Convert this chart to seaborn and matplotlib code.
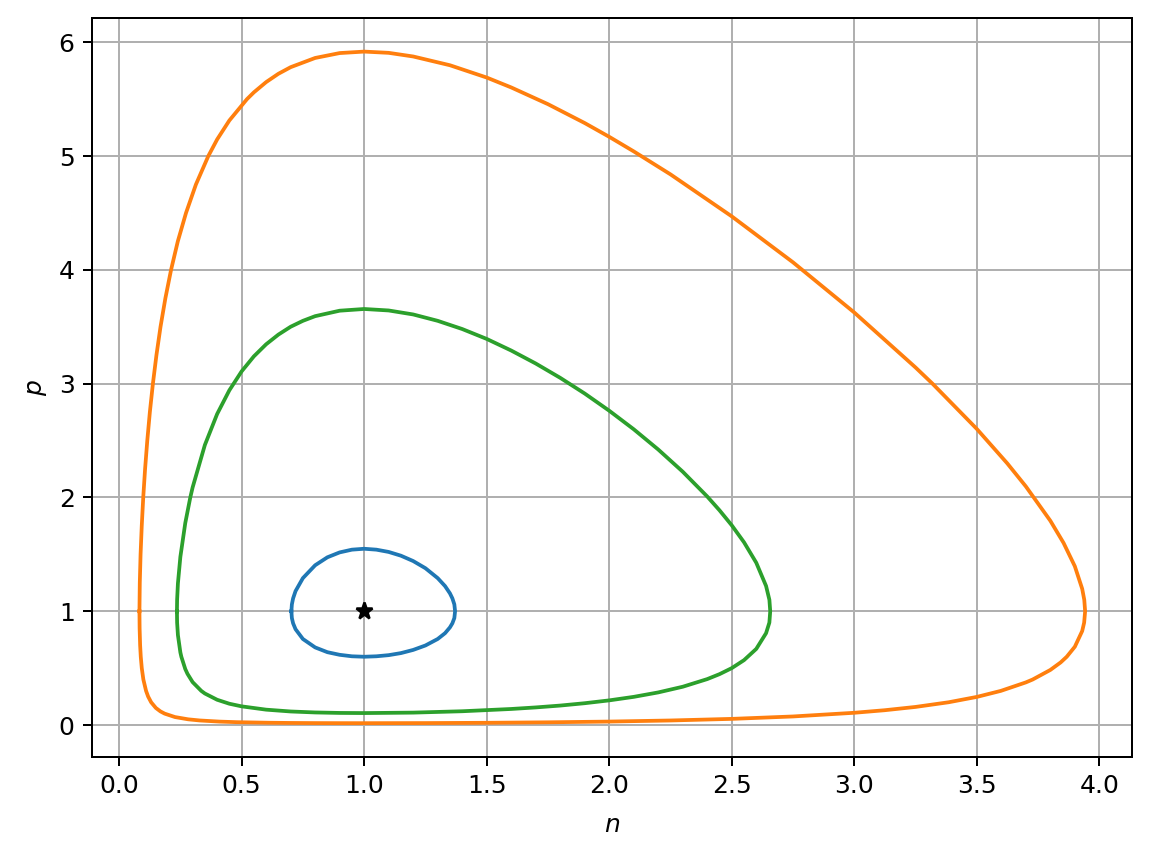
import matplotlib
matplotlib.use("Agg")
import seaborn as sns
import matplotlib.pyplot as plt

# orbit points (closed loops, listed in drawing order)
n_blue = [0.703, 0.705, 0.71, 0.72, 0.75, 0.8, 0.85, 0.9, 0.95, 1.0, 1.05, 1.1, 1.15, 1.2,
          1.25, 1.3, 1.33, 1.35, 1.36, 1.368, 1.371, 1.368, 1.36, 1.35, 1.33, 1.3, 1.25,
          1.2, 1.15, 1.1, 1.05, 1.0, 0.95, 0.9, 0.85, 0.8, 0.75, 0.72, 0.71, 0.705, 0.703]
p_blue = [1.0, 1.06, 1.113, 1.177, 1.291, 1.404, 1.474, 1.517, 1.541, 1.549, 1.541, 1.521,
          1.488, 1.441, 1.378, 1.291, 1.221, 1.157, 1.113, 1.06, 1.0, 0.94, 0.894, 0.858,
          0.807, 0.756, 0.699, 0.660, 0.632, 0.614, 0.604, 0.600, 0.604, 0.617, 0.640,
          0.682, 0.756, 0.842, 0.894, 0.94, 1.0]

n_orange = [0.083, 0.0844, 0.0876, 0.0924, 0.0985, 0.106, 0.115, 0.1255, 0.1379, 0.1523,
            0.169, 0.1888, 0.212, 0.2395, 0.273, 0.3134, 0.364, 0.4, 0.45, 0.5217, 0.55,
            0.6, 0.65, 0.7, 0.8, 0.9, 1.0, 1.1, 1.2, 1.35, 1.5, 1.6, 1.75, 1.9, 2.0, 2.1,
            2.25, 2.5, 2.75, 3.0, 3.25, 3.319, 3.5, 3.624, 3.7, 3.8, 3.854, 3.9, 3.93,
            3.9385, 3.942, 3.938, 3.93, 3.9, 3.867, 3.842, 3.8, 3.728, 3.7, 3.598, 3.5,
            3.385, 3.25, 3.124, 3.0, 2.75, 2.5, 2.25, 2.0, 1.75, 1.5, 1.25, 1.0, 0.9, 0.8,
            0.7, 0.611, 0.481, 0.41, 0.329, 0.282, 0.228, 0.186, 0.1684, 0.150, 0.1307,
            0.1185, 0.11, 0.099, 0.0925, 0.0884, 0.0858, 0.0837, 0.083]
p_orange = [1.0, 1.25, 1.5, 1.75, 2.0, 2.25, 2.5, 2.75, 3.0, 3.25, 3.5, 3.75, 4.0, 4.25,
            4.5, 4.75, 5.0, 5.146, 5.313, 5.5, 5.56, 5.65, 5.723, 5.781, 5.862, 5.905,
            5.918, 5.907, 5.875, 5.798, 5.69, 5.603, 5.456, 5.29, 5.169, 5.041, 4.839, 4.47,
            4.066, 3.625, 3.142, 3.0, 2.602, 2.3, 2.097, 1.795, 1.6, 1.395, 1.197, 1.1, 1.0,
            0.9, 0.826, 0.688, 0.6, 0.55, 0.484, 0.4, 0.3745, 0.3, 0.247, 0.2, 0.159, 0.13,
            0.1076, 0.0752, 0.054, 0.0399, 0.0303, 0.0239, 0.0196, 0.0171, 0.0162, 0.0164,
            0.0170, 0.0182, 0.02, 0.025, 0.03, 0.04, 0.05, 0.07, 0.1, 0.12, 0.15, 0.2, 0.25,
            0.3, 0.4, 0.5, 0.6, 0.7, 0.85, 1.0]

n_green = [0.236, 0.2367, 0.24, 0.25, 0.27, 0.2905, 0.3, 0.35, 0.4, 0.45, 0.5, 0.55, 0.6,
           0.65, 0.7, 0.75, 0.8, 0.9, 1.0, 1.1, 1.2, 1.3, 1.4, 1.5, 1.6, 1.7, 1.8, 1.9, 2.0,
           2.1, 2.2, 2.3, 2.4, 2.45, 2.5, 2.55, 2.6, 2.64, 2.6536, 2.657, 2.6535, 2.64, 2.6,
           2.55, 2.5, 2.45, 2.4, 2.3, 2.2, 2.1, 2.0, 1.9, 1.8, 1.7, 1.6, 1.4, 1.2, 1.0, 0.9,
           0.8, 0.7, 0.6, 0.5, 0.45, 0.4, 0.35, 0.3353, 0.3, 0.279, 0.27, 0.254, 0.25, 0.24,
           0.2367, 0.236]
p_green = [1.0, 1.1, 1.245, 1.478, 1.775, 2.0, 2.088, 2.461, 2.733, 2.942, 3.108, 3.24,
           3.346, 3.431, 3.5, 3.552, 3.593, 3.641, 3.656, 3.643, 3.608, 3.552, 3.48, 3.393,
           3.291, 3.177, 3.051, 2.913, 2.762, 2.599, 2.421, 2.226, 2.008, 1.887, 1.755,
           1.606, 1.426, 1.222, 1.1, 1.0, 0.9, 0.807, 0.669, 0.57, 0.5, 0.447, 0.4036,
           0.3364, 0.2865, 0.2475, 0.2166, 0.1916, 0.171, 0.1546, 0.141, 0.121, 0.109, 0.105,
           0.1062, 0.1104, 0.119, 0.135, 0.164, 0.187, 0.222, 0.277, 0.3, 0.377, 0.45, 0.492,
           0.6, 0.638, 0.79, 0.9, 1.0]

n_eq = [1.0]
p_eq = [1.0]

fig, ax = plt.subplots(figsize=(6.4, 4.7667), dpi=180)

sns.lineplot(x=n_blue, y=p_blue, sort=False, estimator=None, color="C0", lw=1.5, ax=ax)
sns.lineplot(x=n_orange, y=p_orange, sort=False, estimator=None, color="C1", lw=1.5, ax=ax)
sns.lineplot(x=n_green, y=p_green, sort=False, estimator=None, color="C2", lw=1.5, ax=ax)
ax.plot(n_eq, p_eq, "k*", markersize=7, zorder=5)

ax.set_xlabel("$n$", labelpad=6)
ax.set_ylabel("$p$")
ax.grid(True)
ax.set_xticks([0.0, 0.5, 1.0, 1.5, 2.0, 2.5, 3.0, 3.5, 4.0])
ax.set_yticks([0, 1, 2, 3, 4, 5, 6])

fig.subplots_adjust(left=0.08, right=0.983, top=0.979, bottom=0.118)
fig.savefig("out.png", dpi=180)
